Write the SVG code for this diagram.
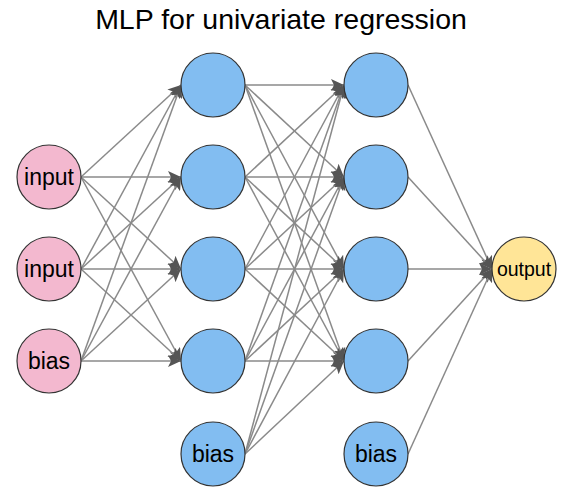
<svg xmlns="http://www.w3.org/2000/svg" width="561" height="491" viewBox="0 0 561 491">
<defs>
<marker id="arr" markerUnits="userSpaceOnUse" markerWidth="14" markerHeight="12" refX="13" refY="6" orient="auto">
<path d="M0,0 L13,6 L0,12 L3,6 Z" fill="#555"/>
</marker>
<style>
.edge{stroke:#8a8a8a;stroke-width:1.5;fill:none;marker-end:url(#arr)}
.n{stroke:#333;stroke-width:1.2}
.in{fill:#F3B8CF}
.hid{fill:#82BDF1}
.out{fill:#FFE597}
.lbl{font-family:"Liberation Sans",Arial,sans-serif;font-size:23px;fill:#000;text-anchor:middle}
.title{font-family:"Liberation Sans",Arial,sans-serif;font-size:28.5px;fill:#000;text-anchor:middle}
</style>
</defs>
<rect width="561" height="491" fill="#fff"/>
<text class="title" x="281" y="29">MLP for univariate regression</text>
<g id="connectors">
<line class="edge" x1="81" y1="177" x2="181" y2="85"/>
<line class="edge" x1="81" y1="177" x2="181" y2="177"/>
<line class="edge" x1="81" y1="177" x2="181" y2="269"/>
<line class="edge" x1="81" y1="177" x2="181" y2="361"/>
<line class="edge" x1="81" y1="269" x2="181" y2="85"/>
<line class="edge" x1="81" y1="269" x2="181" y2="177"/>
<line class="edge" x1="81" y1="269" x2="181" y2="269"/>
<line class="edge" x1="81" y1="269" x2="181" y2="361"/>
<line class="edge" x1="81" y1="361" x2="181" y2="85"/>
<line class="edge" x1="81" y1="361" x2="181" y2="177"/>
<line class="edge" x1="81" y1="361" x2="181" y2="269"/>
<line class="edge" x1="81" y1="361" x2="181" y2="361"/>
<line class="edge" x1="245" y1="85" x2="344" y2="85"/>
<line class="edge" x1="245" y1="85" x2="344" y2="177"/>
<line class="edge" x1="245" y1="85" x2="344" y2="269"/>
<line class="edge" x1="245" y1="85" x2="344" y2="361"/>
<line class="edge" x1="245" y1="177" x2="344" y2="85"/>
<line class="edge" x1="245" y1="177" x2="344" y2="177"/>
<line class="edge" x1="245" y1="177" x2="344" y2="269"/>
<line class="edge" x1="245" y1="177" x2="344" y2="361"/>
<line class="edge" x1="245" y1="269" x2="344" y2="85"/>
<line class="edge" x1="245" y1="269" x2="344" y2="177"/>
<line class="edge" x1="245" y1="269" x2="344" y2="269"/>
<line class="edge" x1="245" y1="269" x2="344" y2="361"/>
<line class="edge" x1="245" y1="361" x2="344" y2="85"/>
<line class="edge" x1="245" y1="361" x2="344" y2="177"/>
<line class="edge" x1="245" y1="361" x2="344" y2="269"/>
<line class="edge" x1="245" y1="361" x2="344" y2="361"/>
<line class="edge" x1="245" y1="454" x2="344" y2="85"/>
<line class="edge" x1="245" y1="454" x2="344" y2="177"/>
<line class="edge" x1="245" y1="454" x2="344" y2="269"/>
<line class="edge" x1="245" y1="454" x2="344" y2="361"/>
<line class="edge" x1="408" y1="85" x2="492" y2="269"/>
<line class="edge" x1="408" y1="177" x2="492" y2="269"/>
<line class="edge" x1="408" y1="269" x2="492" y2="269"/>
<line class="edge" x1="408" y1="361" x2="492" y2="269"/>
<line class="edge" x1="408" y1="454" x2="492" y2="269"/>
</g>
<g id="in1"><circle class="n in" cx="49" cy="177" r="32"/><text class="lbl" x="49" y="185">input</text></g>
<g id="in2"><circle class="n in" cx="49" cy="269" r="32"/><text class="lbl" x="49" y="277">input</text></g>
<g id="in_bias"><circle class="n in" cx="49" cy="361" r="32"/><text class="lbl" x="49" y="369">bias</text></g>
<g id="h1_1"><circle class="n hid" cx="213" cy="85" r="32"/></g>
<g id="h1_2"><circle class="n hid" cx="213" cy="177" r="32"/></g>
<g id="h1_3"><circle class="n hid" cx="213" cy="269" r="32"/></g>
<g id="h1_4"><circle class="n hid" cx="213" cy="361" r="32"/></g>
<g id="h1_bias"><circle class="n hid" cx="213" cy="454" r="32"/><text class="lbl" x="213" y="462">bias</text></g>
<g id="h2_1"><circle class="n hid" cx="376" cy="85" r="32"/></g>
<g id="h2_2"><circle class="n hid" cx="376" cy="177" r="32"/></g>
<g id="h2_3"><circle class="n hid" cx="376" cy="269" r="32"/></g>
<g id="h2_4"><circle class="n hid" cx="376" cy="361" r="32"/></g>
<g id="h2_bias"><circle class="n hid" cx="376" cy="454" r="32"/><text class="lbl" x="376" y="462">bias</text></g>
<g id="output"><circle class="n out" cx="524" cy="269" r="32"/><text class="lbl" x="524" y="276" style="font-size:19.5px">output</text></g>
</svg>
